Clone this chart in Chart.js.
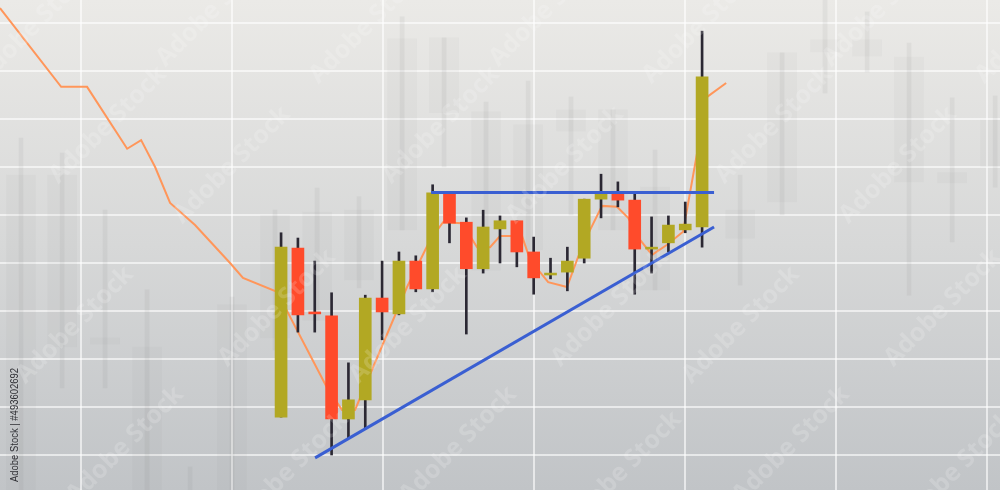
<!DOCTYPE html>
<html>
<head>
<meta charset="utf-8">
<script src="https://cdn.jsdelivr.net/npm/chart.js@4/dist/chart.umd.min.js"></script>
<style>
  html, body { margin: 0; padding: 0; background: #d8d8d8; }
  #wrap { width: 1000px; height: 490px; position: relative; }
</style>
</head>
<body>
<div id="wrap"><canvas id="chart"></canvas></div>
<script>
// candle periods (x = period index)
const periods = [0, 1, 2, 3, 4, 5, 6, 7, 8, 9, 10, 11, 12, 13, 14, 15, 16, 17, 18, 19, 20, 21, 22, 23, 24, 25];
const opens  = [107.9, 143.1, 129.8, 129.0, 107.5, 111.5, 132.7, 129.4, 140.4, 134.6, 154.6, 148.5, 138.8, 147.1, 148.8, 142.3, 137.5, 138.1, 141.0, 153.3, 154.6, 153.1, 142.9, 144.2, 146.9, 147.5];
const closes = [143.3, 129.2, 129.4, 107.5, 111.5, 132.7, 129.8, 140.4, 134.6, 154.6, 148.3, 138.8, 147.5, 148.8, 142.3, 136.9, 137.9, 140.4, 153.3, 154.6, 153.1, 142.9, 143.3, 147.9, 148.1, 178.8];
const highs  = [146.3, 145.2, 140.4, 133.8, 119.2, 133.3, 140.4, 142.3, 141.5, 156.3, 154.6, 149.4, 151.0, 149.8, 148.8, 145.4, 141.0, 143.3, 153.3, 158.5, 156.9, 154.4, 149.6, 149.8, 152.7, 188.3];
const lows   = [107.9, 125.6, 125.6, 100.0, 103.5, 105.6, 124.0, 129.2, 134.0, 134.0, 144.2, 125.2, 137.9, 140.0, 139.2, 133.5, 136.7, 134.2, 140.0, 149.4, 151.7, 133.5, 137.9, 142.3, 146.3, 143.3];

// moving average line
const maX = [-16.69, -13.06, -11.52, -9.14, -8.31, -7.48, -6.59, -5.11, -3.03, -2.26, -0.24, 2.73, 3.62, 4.39, 7.48, 8.85, 9.62, 10.75, 11.64, 12.41, 13.0, 14.31, 14.79, 15.86, 16.98, 17.64, 18.35, 19.06, 19.95, 20.61, 21.32, 22.03, 22.92, 23.87, 25.30, 26.43];
const maY = [193.1, 176.7, 176.7, 163.8, 165.6, 160.0, 152.5, 147.9, 140.0, 136.9, 134.0, 114.0, 109.4, 109.4, 135.0, 144.8, 148.5, 148.3, 143.3, 143.3, 145.6, 145.6, 140.6, 136.0, 135.0, 141.3, 146.9, 151.9, 151.7, 149.4, 144.8, 141.7, 143.8, 146.5, 174.6, 177.5];

// trend lines
const resistanceX = [8.91, 25.71];
const resistanceY = [154.7, 154.7];
const supportX = [2.02, 25.71];
const supportY = [99.4, 147.5];

// faded background candles
const ghostX      = [-15.44, -13.0, -10.45, -7.96, -5.40, -2.91, -0.36, 2.14, 4.63, 7.19, 9.68, 12.17, 14.67, 17.22, 19.71, 22.21, 27.26, 29.75, 32.30, 34.80, 37.29, 39.85, 42.40];
const ghostTop    = [158.3, 158.3, 124.4, 122.5, 92.0, 131.3, 150.0, 150.6, 151.0, 186.7, 186.9, 171.5, 168.8, 171.9, 171.9, 155.8, 151.0, 183.8, 186.5, 186.5, 182.9, 158.8, 169.8];
const ghostBottom = [92.0, 122.5, 123.1, 92.0, 90.0, 92.0, 124.4, 128.1, 136.5, 146.9, 171.3, 138.5, 142.7, 167.5, 146.9, 134.4, 145.2, 152.7, 184.0, 183.1, 156.9, 156.7, 160.0];
const ghostHigh   = [166.0, 162.9, 151.0, 134.4, 97.5, 132.9, 151.0, 155.6, 153.8, 191.3, 186.9, 173.5, 177.9, 174.6, 171.9, 163.5, 158.3, 183.8, 194.8, 192.3, 185.8, 174.4, 174.8];
const ghostLow    = [92.0, 114.0, 114.0, 92.0, 90.0, 92.0, 121.9, 128.1, 134.8, 146.9, 160.0, 138.5, 142.7, 150.0, 146.9, 134.4, 135.4, 150.0, 175.4, 179.8, 133.3, 144.4, 155.8];

// grid ticks (labels hidden)
const xGridTicks = [-11.88, -2.91, 6.06, 15.02, 23.99, 32.96, 41.92];
const yGridTicks = [100, 110, 120, 130, 140, 150, 160, 170, 180, 190];

const UP = "#b2a823";
const DOWN = "#ff4b2b";

const bgPlugin = {
  id: "bg",
  beforeDraw(chart) {
    const { ctx, width, height } = chart;
    const g = ctx.createLinearGradient(0, 0, 0, height);
    g.addColorStop(0, "#ebeae7");
    g.addColorStop(0.5, "#d7d8d8");
    g.addColorStop(1, "#c1c4c7");
    ctx.save();
    ctx.fillStyle = g;
    ctx.fillRect(0, 0, width, height);
    ctx.restore();
  }
};

// stock photo watermark + id label
const markPlugin = {
  id: "mark",
  afterDatasetsDraw(chart) {
    const ctx = chart.ctx;
    const spots = [[35, 25], [215, 8], [108, 125], [232, 165], [75, 325], [277, 308], [125, 445], [290, 470]];
    ctx.save();
    ctx.font = "bold 25px 'Open Sans'";
    ctx.textAlign = "center";
    ctx.textBaseline = "middle";
    for (let k = 0; k < 4; k++) {
      spots.forEach(([x, y]) => {
        ctx.save();
        ctx.translate(x + k * 333, y);
        ctx.rotate(-Math.PI / 4);
        ctx.fillStyle = "rgba(255,255,255,0.17)";
        ctx.fillText("Adobe Stock", 0, 0);
        ctx.restore();
      });
    }
    ctx.translate(15, 482);
    ctx.rotate(-Math.PI / 2);
    ctx.scale(0.86, 1);
    ctx.font = "11px 'Liberation Sans'";
    ctx.textAlign = "left";
    ctx.fillStyle = "#2e2e33";
    ctx.fillText("Adobe Stock | #493602692", 0, 0);
    ctx.restore();
  }
};

new Chart(document.getElementById("chart"), {
  type: "bar",
  data: {
    datasets: [
      {
        type: "line", label: "Resistance", order: 0,
        data: resistanceX.map((x, i) => ({ x, y: resistanceY[i] })),
        borderColor: "#3a5fd2", borderWidth: 3, pointRadius: 0
      },
      {
        type: "line", label: "Support", order: 0,
        data: supportX.map((x, i) => ({ x, y: supportY[i] })),
        borderColor: "#3a5fd2", borderWidth: 3, pointRadius: 0
      },
      {
        label: "Body", order: 1, grouped: false, barThickness: 12,
        data: periods.map((p, i) => ({ x: p, y: [opens[i], closes[i]] })),
        backgroundColor: periods.map((p, i) => closes[i] >= opens[i] ? UP : DOWN)
      },
      {
        label: "Wick", order: 2, grouped: false, barThickness: 2,
        data: periods.map((p, i) => ({ x: p, y: [lows[i], highs[i]] })),
        backgroundColor: "#2b2833"
      },
      {
        type: "line", label: "MA", order: 3,
        data: maX.map((x, i) => ({ x, y: maY[i] })),
        borderColor: "#ff965a", borderWidth: 2, pointRadius: 0, tension: 0
      },
      {
        label: "Ghost body", order: 4, grouped: false, barThickness: 29,
        data: ghostX.map((x, i) => ({ x, y: [ghostBottom[i], ghostTop[i]] })),
        backgroundColor: "rgba(120,120,120,0.045)"
      },
      {
        label: "Ghost wick", order: 5, grouped: false, barThickness: 4,
        data: ghostX.map((x, i) => ({ x, y: [ghostLow[i], ghostHigh[i]] })),
        backgroundColor: "rgba(120,120,120,0.09)"
      }
    ]
  },
  options: {
    responsive: true,
    maintainAspectRatio: false,
    devicePixelRatio: 1,
    animation: false,
    events: [],
    layout: { padding: 0 },
    plugins: { legend: { display: false }, tooltip: { enabled: false } },
    scales: {
      x: {
        type: "linear", min: -16.69, max: 42.69, offset: false,
        afterBuildTicks: s => { s.ticks = xGridTicks.map(v => ({ value: v })); },
        ticks: { display: false },
        grid: { color: "rgba(255,255,255,0.6)", lineWidth: 2, drawTicks: false, offset: false },
        border: { display: false }
      },
      y: {
        type: "linear", min: 92.71, max: 194.79, beginAtZero: false,
        afterBuildTicks: s => { s.ticks = yGridTicks.map(v => ({ value: v })); },
        ticks: { display: false },
        grid: { color: "rgba(255,255,255,0.6)", lineWidth: 2, drawTicks: false },
        border: { display: false }
      }
    }
  },
  plugins: [bgPlugin, markPlugin]
});
</script>
</body>
</html>
